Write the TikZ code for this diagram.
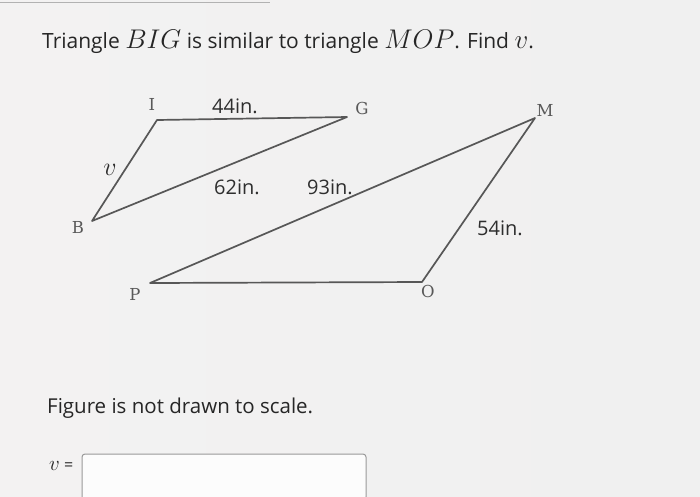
\RequirePackage{fix-cm}
\documentclass[tikz,border=0pt]{standalone}
\usepackage{fontspec}
\setmainfont{Open Sans}
\newfontfamily\vertexfont{DejaVu Serif}
\newcommand{\mvar}[2][26]{{\fontsize{#1}{#1}\selectfont$#2$}}
\usetikzlibrary{positioning}

\begin{document}
\begin{tikzpicture}[
    x=1pt, y=-1pt,
    side/.style={draw=black!66, line width=1.7pt, line join=round},
    vertex/.style={font=\vertexfont\fontsize{16.5}{16.5}\selectfont, text=black!65, inner sep=0pt},
    length/.style={font=\fontsize{20}{20}\selectfont, text=black!82, inner sep=0pt},
    prompt/.style={font=\fontsize{21}{24}\selectfont, text=black!85, inner sep=0pt, anchor=base west},
    answer/.style={draw=black!40, line width=1pt, rounded corners=3pt, fill=white!60!black!3}
]
    % Background
    \shade[left color=red!6!black!5, right color=black!6] (0,0) rectangle (700,496);
    \useasboundingbox (0,0) rectangle (700,496);
    \draw[black!30, line width=1pt] (0,2) -- (270,2);

    % Question
    \node[prompt] (title) at (42,48) {Triangle \mvar[27]{BIG} is similar to triangle \mvar[27]{MOP}. Find \mvar[27]{v}.};

    % Vertices
    \coordinate (B) at (92,221);
    \coordinate (I) at (157,120);
    \coordinate (G) at (347,117);
    \coordinate (P) at (150,283);
    \coordinate (O) at (422,282);
    \coordinate (M) at (535,118);

    % Triangles
    \draw[side] (B) -- (I) -- (G) -- cycle;
    \draw[side] (M) -- (O) -- (P) -- cycle;

    % Vertex labels
    \node[vertex] (lI) at (152,104) {I};
    \node[vertex] (lG) at (362,108) {G};
    \node[vertex] (lB) at (78,227) {B};
    \node[vertex] (lP) at (135,294) {P};
    \node[vertex] (lO) at (428,291) {O};
    \node[vertex] (lM) at (545,110) {M};

    % Side lengths
    \node[length] (sIG) at (235,106) {44in.};
    \node[length] (sBG) at (237,187) {62in.};
    \node[length] (sPM) at (330,187) {93in.};
    \node[length] (sMO) at (500,228) {54in.};
    \node[length] (sBI) at (110,170) {\mvar{v}};

    % Note and answer box
    \node[prompt, font=\fontsize{20.5}{24}\selectfont] (note) at (47,413) {Figure is not drawn to scale.};
    \node[prompt, font=\fontsize{16}{18}\selectfont] (vlabel) at (49,470) {\mvar[21]{v} =};
    \draw[answer] (82,454) rectangle (366,500);
\end{tikzpicture}
\end{document}
